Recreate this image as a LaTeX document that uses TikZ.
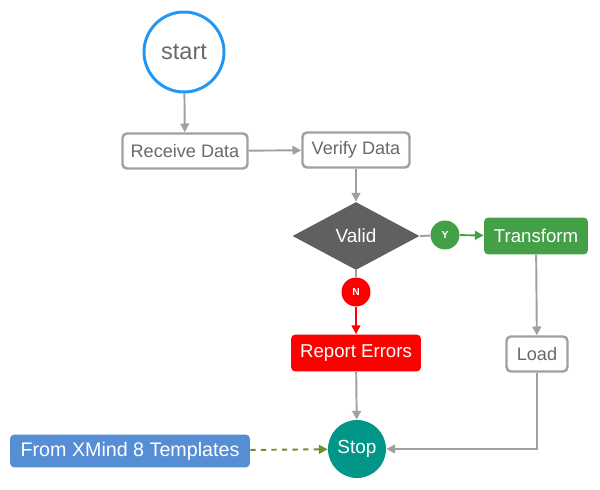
\documentclass[tikz,border=0pt]{standalone}
\usepackage{fontspec}
\setmainfont{Liberation Sans}
\usepackage{tikz}
\usetikzlibrary{shapes.geometric, arrows.meta, positioning}
\definecolor{startblue}{RGB}{33,150,243}
\definecolor{linegray}{RGB}{160,160,160}
\definecolor{textgray}{RGB}{105,105,105}
\definecolor{validgray}{RGB}{96,96,96}
\definecolor{okgreen}{RGB}{67,160,71}
\definecolor{errred}{RGB}{255,0,0}
\definecolor{stopteal}{RGB}{0,150,136}
\definecolor{tplblue}{RGB}{85,142,213}
\definecolor{olive}{RGB}{110,140,50}

\begin{document}
\begin{tikzpicture}[
  x=0.02cm, y=-0.02cm,
  box/.style={draw=linegray, fill=white, rounded corners=2.5pt,
              minimum height=0.7cm, inner sep=0pt,
              font=\fontsize{10.3}{12}\selectfont, text=textgray, line width=1.4pt},
  filled/.style={rounded corners=2.5pt, minimum height=0.74cm, inner sep=0pt,
                 font=\fontsize{10.6}{12}\selectfont, text=white},
  badge/.style={circle, minimum size=0.58cm, inner sep=0pt, text=white,
                font=\fontsize{5.8}{6}\selectfont\bfseries},
  arrow/.style={-{Triangle[length=5pt, width=5pt]}, line width=1.1pt, color=linegray},
  line/.style={line width=1.1pt, color=linegray}
]
\useasboundingbox (0,0) rectangle (600,490);

\node[circle, draw=startblue, line width=1.7pt, minimum size=1.6cm, inner sep=0pt,
      text=textgray, font=\fontsize{13.4}{15}\selectfont] (start) at (184,52) {start};
\node[box, minimum width=2.5cm]  (receive) at (185,151) {Receive Data};
\node[box, minimum width=2.14cm] (verify)  at (356,150) {Verify Data};
\node[diamond, fill=validgray, aspect=1.87, minimum width=2.54cm, minimum height=1.36cm,
      inner sep=0pt, text=white, font=\fontsize{10.8}{12}\selectfont] (valid) at (356,236) {Valid};
\node[badge, fill=okgreen] (yes) at (445,235) {Y};
\node[filled, fill=okgreen, minimum width=2.08cm] (transform) at (536,236) {Transform};
\node[badge, fill=errred] (no) at (356,292) {N};
\node[filled, fill=errred, minimum width=2.6cm] (report) at (356,353) {Report Errors};
\node[box, minimum width=1.22cm] (load) at (537,354) {Load};
\node[circle, fill=stopteal, minimum size=1.16cm, inner sep=0pt, text=white,
      font=\fontsize{10.8}{12}\selectfont] (stop) at (357,449) {Stop};
\node[filled, fill=tplblue, minimum width=4.8cm, minimum height=0.66cm,
      font=\fontsize{11.2}{12}\selectfont] (tpl) at (130,451) {From XMind 8 Templates};

\draw[arrow] (start) -- (receive);
\draw[arrow] (receive) -- (verify);
\draw[arrow] (verify) -- (valid);
\draw[line] (valid.east) -- (yes);
\draw[arrow, color=okgreen] (yes) -- (transform);
\draw[line] (valid.south) -- (no);
\draw[arrow, color=errred] (no) -- (report);
\draw[arrow] (transform) -- (load);
\draw[arrow] (report) -- (stop);
\draw[arrow] (load.south) |- (stop.east);
\draw[arrow, color=olive, dashed] (tpl) -- (stop);
\end{tikzpicture}
\end{document}
